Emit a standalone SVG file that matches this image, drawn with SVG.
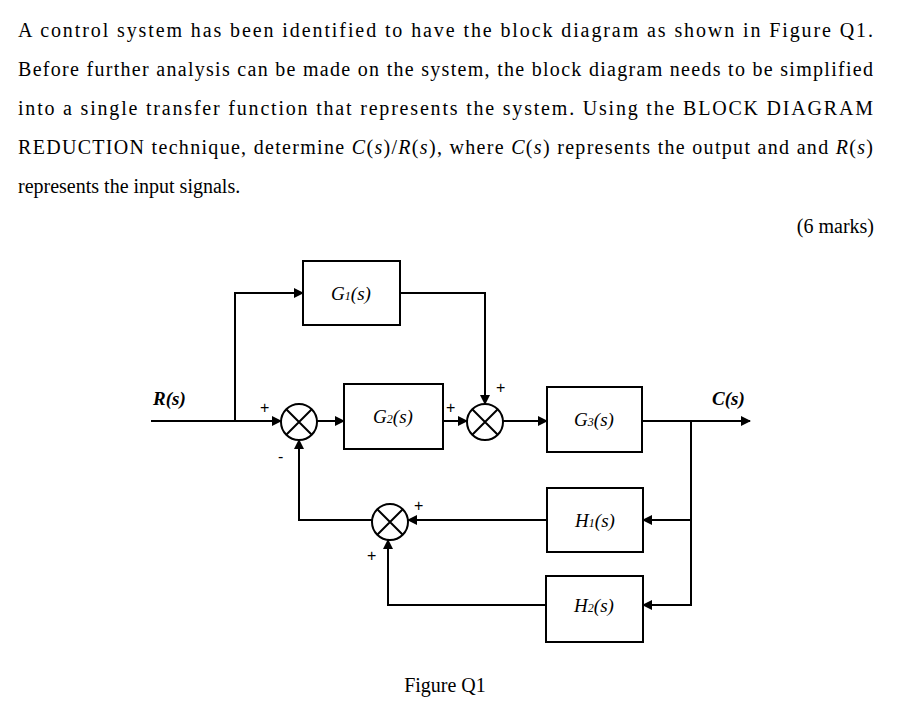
<svg xmlns="http://www.w3.org/2000/svg" width="908" height="705" viewBox="0 0 908 705">
<defs>
<marker id="ah" markerWidth="10" markerHeight="10" refX="9" refY="5" orient="auto" markerUnits="userSpaceOnUse"><path d="M0,0 L10,5 L0,10 z" fill="#000"/></marker>
</defs>
<style>
.t{font-family:"Liberation Serif",serif;font-size:20px;fill:#000}
.b{fill:#fff;stroke:#000;stroke-width:2}
.l{fill:none;stroke:#000;stroke-width:2}
.c{fill:none;stroke:#000;stroke-width:2;marker-end:url(#ah)}
.lb{font-family:"Liberation Serif",serif;font-size:19px;font-style:italic;fill:#000}
.s{font-family:"Liberation Sans",sans-serif;font-size:16px;fill:#000}
</style>
<rect width="908" height="705" fill="#fff"/>
<text class="t" x="18" y="37" textLength="855" lengthAdjust="spacing">A control system has been identified to have the block diagram as shown in Figure Q1.</text>
<text class="t" x="18" y="76" textLength="855" lengthAdjust="spacing">Before further analysis can be made on the system, the block diagram needs to be simplified</text>
<text class="t" x="18" y="115" textLength="855" lengthAdjust="spacing">into a single transfer function that represents the system. Using the BLOCK DIAGRAM</text>
<text class="t" x="18" y="154" textLength="855" lengthAdjust="spacing">REDUCTION technique, determine <tspan font-style="italic">C</tspan>(<tspan font-style="italic">s</tspan>)/<tspan font-style="italic">R</tspan>(<tspan font-style="italic">s</tspan>), where <tspan font-style="italic">C</tspan>(<tspan font-style="italic">s</tspan>) represents the output and and <tspan font-style="italic">R</tspan>(<tspan font-style="italic">s</tspan>)</text>
<text class="t" x="18" y="193">represents the input signals.</text>
<text class="t" x="874" y="233" text-anchor="end">(6 marks)</text>
<g id="connectors">
<path class="c" d="M151,421 H281"/>
<path class="c" d="M235,421 V293 H303"/>
<path class="c" d="M400,293 H485 V404"/>
<path class="c" d="M317,421 H344"/>
<path class="c" d="M443,421 H467"/>
<path class="c" d="M503,421 H547"/>
<path class="c" d="M642,421 H750"/>
<path class="c" d="M691,421 V520 H643"/>
<path class="c" d="M691,421 V605 H643"/>
<path class="c" d="M547,520 H408"/>
<path class="c" d="M546,605 H388 V540"/>
<path class="c" d="M372,520 H299 V440"/>
</g>
<g id="G1"><rect class="b" x="303" y="261" width="97" height="64"/><text class="lb" x="351" y="300" text-anchor="middle">G<tspan font-size="12">1</tspan>(s)</text></g>
<g id="G2"><rect class="b" x="344" y="384" width="99" height="65"/><text class="lb" x="393" y="423" text-anchor="middle">G<tspan font-size="12">2</tspan>(s)</text></g>
<g id="G3"><rect class="b" x="547" y="387" width="95" height="65"/><text class="lb" x="594" y="426" text-anchor="middle">G<tspan font-size="12">3</tspan>(s)</text></g>
<g id="H1"><rect class="b" x="547" y="488" width="96" height="64"/><text class="lb" x="595" y="527" text-anchor="middle">H<tspan font-size="12">1</tspan>(s)</text></g>
<g id="H2"><rect class="b" x="546" y="576" width="97" height="66"/><text class="lb" x="594" y="612" text-anchor="middle">H<tspan font-size="12">2</tspan>(s)</text></g>
<g id="sum1"><circle class="b" cx="299" cy="422" r="18"/><path class="l" d="M286,409 L312,435 M312,409 L286,435"/></g>
<g id="sum2"><circle class="b" cx="485" cy="422" r="18"/><path class="l" d="M472,409 L498,435 M498,409 L472,435"/></g>
<g id="sum3"><circle class="b" cx="390" cy="522" r="18"/><path class="l" d="M377,509 L403,535 M403,509 L377,535"/></g>
<text class="lb" x="153" y="405" font-weight="bold">R(s)</text>
<text class="lb" x="712" y="405" font-weight="bold">C(s)</text>
<text class="s" x="260" y="413">+</text>
<text class="s" x="278" y="462">-</text>
<text class="s" x="446" y="413">+</text>
<text class="s" x="496" y="393">+</text>
<text class="s" x="414" y="511">+</text>
<text class="s" x="367" y="561">+</text>
<text class="t" x="445" y="692" text-anchor="middle">Figure Q1</text>
</svg>
